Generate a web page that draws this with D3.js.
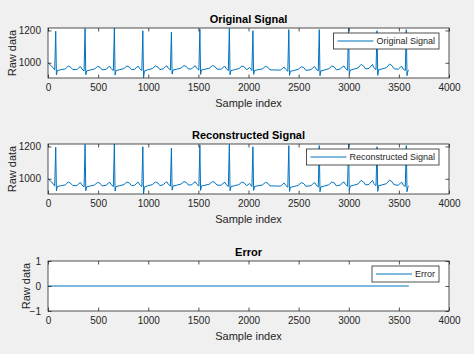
<!DOCTYPE html>
<html>
<head>
<meta charset="utf-8">
<script src="https://cdn.jsdelivr.net/npm/d3@7"></script>
<style>
  body { margin: 0; background: #f0f0f0; }
  svg { display: block; font-family: "Liberation Sans", Arial, sans-serif; }
</style>
</head>
<body>
<div id="chart"></div>
<script>
// ECG samples: [sample index, raw value]
const signalPoints = [
  [0, 1000], [20, 990], [40, 975], [55, 968], [67, 955], [77, 1195], [84, 925], [93, 952],
  [127, 957], [172, 962], [202, 980], [227, 972], [247, 958], [270, 958],
  [290, 958], [310, 972], [325, 976], [338, 962], [360, 950], [370, 1212], [377, 926], [386, 950],
  [420, 955], [465, 962], [495, 978], [520, 972], [540, 956],
  [582, 960], [602, 974], [617, 978], [630, 964], [652, 952], [662, 1215], [669, 924], [678, 952],
  [712, 957], [757, 964], [787, 980], [812, 974], [832, 958],
  [866, 960], [886, 974], [901, 978], [914, 964], [936, 952], [946, 1198], [953, 906], [962, 950],
  [996, 957], [1041, 964], [1071, 980], [1096, 974], [1116, 958],
  [1151, 963], [1171, 977], [1186, 981], [1199, 967], [1221, 955], [1231, 1190], [1238, 930], [1247, 955],
  [1281, 960], [1326, 967], [1356, 983], [1381, 977], [1401, 961],
  [1435, 963], [1455, 977], [1470, 981], [1483, 967], [1505, 955], [1515, 1208], [1522, 928], [1531, 955],
  [1565, 960], [1610, 967], [1640, 983], [1665, 977], [1685, 961],
  [1729, 960], [1749, 974], [1764, 978], [1777, 964], [1799, 952], [1809, 1212], [1816, 926], [1825, 952],
  [1859, 957], [1904, 964], [1934, 980], [1959, 974], [1979, 958],
  [1995, 962], [2010, 972], [2022, 962], [2034, 952], [2044, 1198], [2051, 928], [2060, 952],
  [2094, 957], [2139, 962], [2169, 978], [2194, 972], [2214, 956],
  [2250, 956], [2300, 955], [2322, 955], [2342, 968], [2357, 973], [2370, 960], [2392, 948], [2402, 1205], [2409, 922], [2418, 948],
  [2452, 952], [2497, 960], [2527, 976], [2552, 970], [2572, 953],
  [2626, 958], [2646, 972], [2661, 976], [2674, 962], [2696, 950], [2706, 1205], [2713, 920], [2722, 950],
  [2756, 955], [2801, 963], [2831, 980], [2856, 974], [2876, 956],
  [2918, 962], [2938, 976], [2953, 980], [2966, 966], [2988, 954], [2998, 1215], [3005, 926], [3014, 954],
  [3048, 960], [3093, 968], [3123, 990], [3148, 980], [3168, 962],
  [3202, 965], [3222, 980], [3237, 990], [3250, 970], [3272, 957], [3282, 1198], [3289, 922], [3298, 957],
  [3332, 962], [3377, 970], [3407, 992], [3432, 982], [3452, 963],
  [3494, 960], [3514, 972], [3529, 978], [3542, 962], [3564, 952], [3574, 1205], [3581, 920], [3590, 950],
  [3599, 955]
];

// reconstruction is identical to the original, so the error is flat zero
const reconstructedPoints = signalPoints.map((d) => [d[0], d[1]]);
const errorPoints = [[0, 0], [3599, 0]];

const xTicks = [0, 500, 1000, 1500, 2000, 2500, 3000, 3500, 4000];
const signalYTicks = [1000, 1200];
const errorYTicks = [-1, 0, 1];
const errorYDomain = [-1, 1];

const titles = ["Original Signal", "Reconstructed Signal", "Error"];
const legendLabels = ["Original Signal", "Reconstructed Signal", "Error"];

const width = 474;
const height = 354;
const left = 48;
const right = 449;
const panelTops = [28, 144, 261];
const panelHeight = 50;
const lineColor = "#0072BD";
const axisColor = "#262626";

const svg = d3
  .select("#chart")
  .append("svg")
  .attr("width", width)
  .attr("height", height);

svg.append("rect").attr("width", width).attr("height", height).attr("fill", "#f0f0f0");

const x = d3.scaleLinear().domain([0, 4000]).range([left, right]);

function drawPanel(k, data, yDomain, yTicks) {
  const top = panelTops[k];
  const bottom = top + panelHeight;
  const y = d3.scaleLinear().domain(yDomain).range([bottom, top]);
  const g = svg.append("g");

  g.append("rect")
    .attr("x", left)
    .attr("y", top)
    .attr("width", right - left)
    .attr("height", panelHeight)
    .attr("fill", "white");

  g.append("clipPath")
    .attr("id", "clip" + k)
    .append("rect")
    .attr("x", left)
    .attr("y", top - 0.5)
    .attr("width", right - left)
    .attr("height", panelHeight + 1);

  // signal line
  const line = d3
    .line()
    .x((d) => x(d[0]))
    .y((d) => y(d[1]));
  g.append("path")
    .datum(data)
    .attr("clip-path", "url(#clip" + k + ")")
    .attr("d", line)
    .attr("fill", "none")
    .attr("stroke", lineColor)
    .attr("stroke-width", 1);

  // axes with inward ticks, box on all four sides
  const tickLen = 3.5;
  g.append("g")
    .attr("transform", `translate(0, ${bottom})`)
    .call(d3.axisBottom(x).tickValues(xTicks).tickSizeInner(-tickLen).tickSizeOuter(0).tickPadding(6).tickFormat(d3.format("d")));
  g.append("g")
    .attr("transform", `translate(0, ${top})`)
    .call(d3.axisTop(x).tickValues(xTicks).tickSizeInner(-tickLen).tickSizeOuter(0).tickFormat(""));
  g.append("g")
    .attr("transform", `translate(${left}, 0)`)
    .call(d3.axisLeft(y).tickValues(yTicks).tickSizeInner(-tickLen).tickSizeOuter(0).tickPadding(7).tickFormat(d3.format("d")));
  g.append("g")
    .attr("transform", `translate(${right}, 0)`)
    .call(d3.axisRight(y).tickValues(yTicks).tickSizeInner(-tickLen).tickSizeOuter(0).tickFormat(""));

  g.selectAll(".domain").remove();
  g.selectAll(".tick line").attr("stroke", axisColor).attr("stroke-width", 0.8);
  g.selectAll(".tick text")
    .attr("fill", axisColor)
    .style("font-size", "10px")
    .style("font-family", "'Liberation Sans', Arial, sans-serif");

  g.append("rect")
    .attr("x", left)
    .attr("y", top)
    .attr("width", right - left)
    .attr("height", panelHeight)
    .attr("fill", "none")
    .attr("stroke", axisColor)
    .attr("stroke-width", 0.8);

  // title and axis labels
  g.append("text")
    .attr("x", (left + right) / 2)
    .attr("y", top - 5)
    .attr("text-anchor", "middle")
    .style("font-size", "11px")
    .style("font-weight", "bold")
    .attr("fill", "black")
    .text(titles[k]);

  g.append("text")
    .attr("x", (left + right) / 2)
    .attr("y", bottom + 29)
    .attr("text-anchor", "middle")
    .style("font-size", "11px")
    .attr("fill", axisColor)
    .text("Sample index");

  const labelX = k == 2 ? 27 : 13;
  g.append("text")
    .attr("transform", `translate(${labelX}, ${top + panelHeight / 2}) rotate(-90)`)
    .attr("text-anchor", "middle")
    .attr("dominant-baseline", "middle")
    .style("font-size", "11px")
    .attr("fill", axisColor)
    .text("Raw data");

  // legend
  const lg = g.append("g");
  const legText = lg
    .append("text")
    .style("font-size", "9px")
    .attr("fill", axisColor)
    .attr("dominant-baseline", "middle")
    .text(legendLabels[k]);
  const tw = legText.node().getComputedTextLength();
  const lw = 43 + tw + 4;
  const lx = right - 10 - lw;
  const ly = top + 5;
  lg.insert("rect", "text")
    .attr("x", lx)
    .attr("y", ly)
    .attr("width", lw)
    .attr("height", 16)
    .attr("fill", "white")
    .attr("stroke", axisColor)
    .attr("stroke-width", 0.8);
  lg.append("line")
    .attr("x1", lx + 4)
    .attr("x2", lx + 40)
    .attr("y1", ly + 8)
    .attr("y2", ly + 8)
    .attr("stroke", lineColor)
    .attr("stroke-width", 1);
  legText.attr("x", lx + 43).attr("y", ly + 8.5);
}

const signalDomain = d3.extent(signalPoints, (d) => d[1]);
drawPanel(0, signalPoints, signalDomain, signalYTicks);
drawPanel(1, reconstructedPoints, signalDomain, signalYTicks);
drawPanel(2, errorPoints, errorYDomain, errorYTicks);
</script>
</body>
</html>
